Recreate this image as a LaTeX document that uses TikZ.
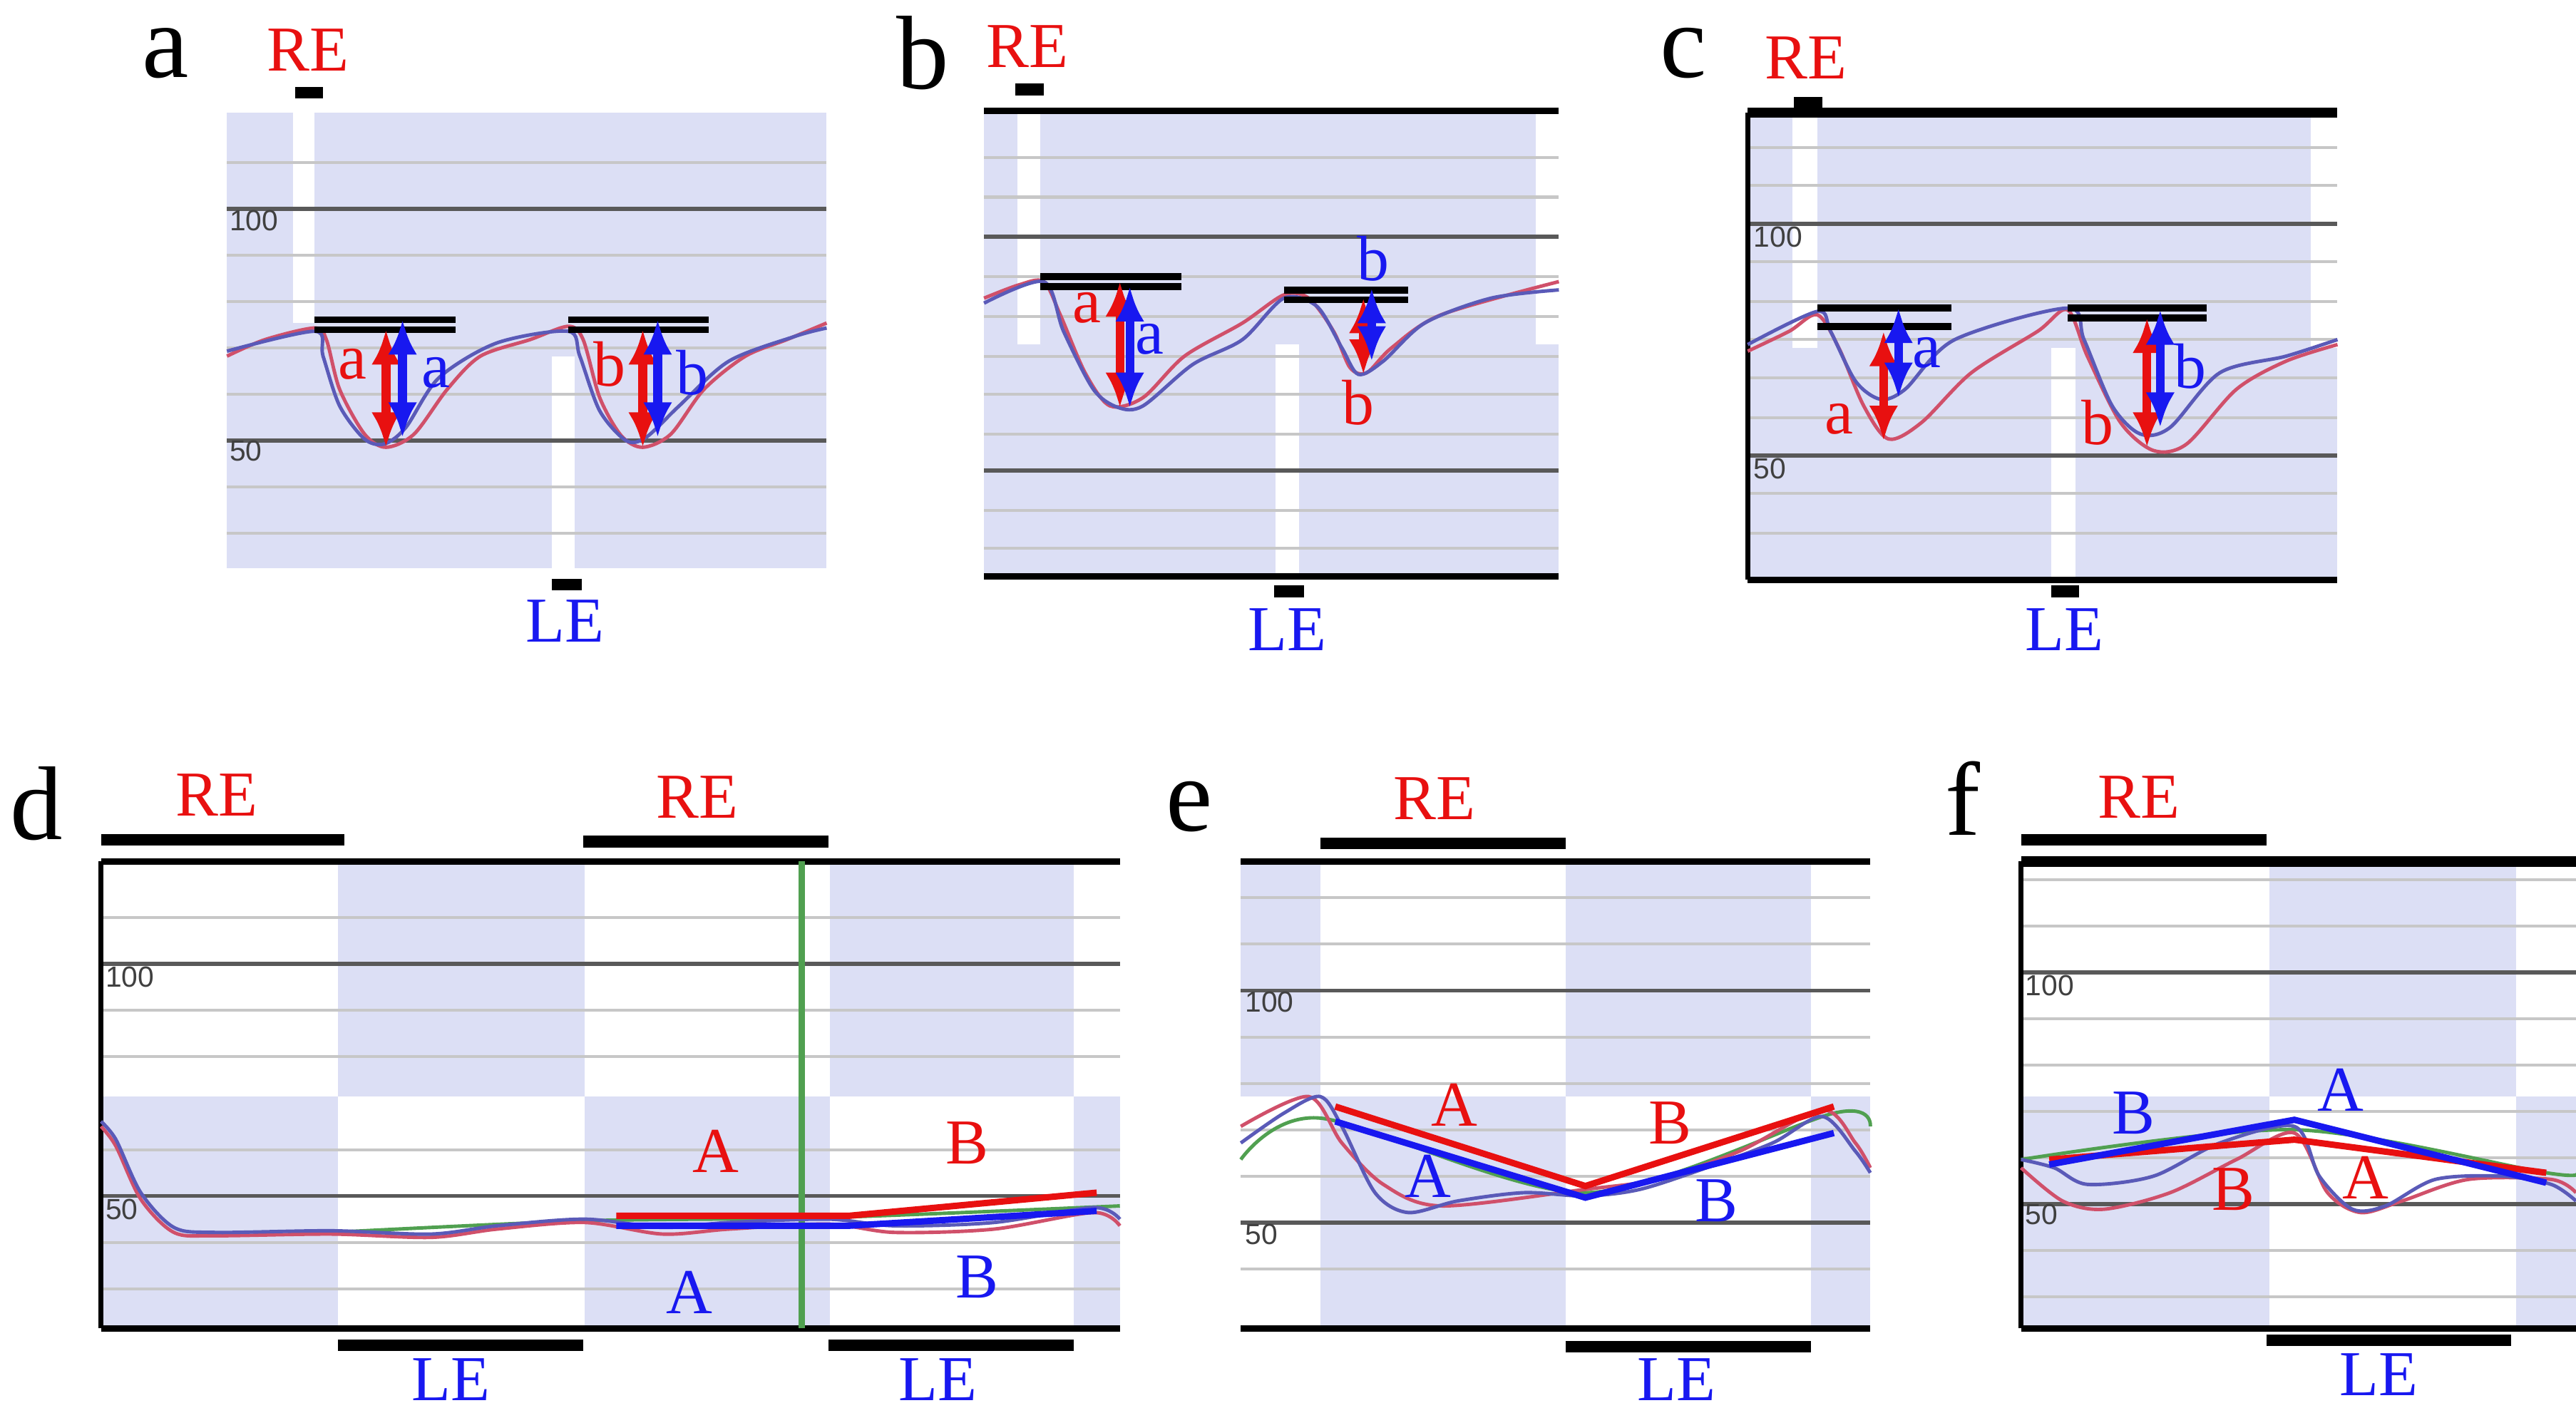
\documentclass[tikz,border=0pt]{standalone}
\usepackage{fontspec}
\setmainfont{Liberation Serif}
\newfontfamily\gridf{Liberation Sans}
\usetikzlibrary{arrows.meta}
\definecolor{lav}{HTML}{DCDFF5}
\definecolor{tred}{HTML}{D0506A}
\definecolor{tblue}{HTML}{5A5AB8}
\definecolor{tgreen}{HTML}{50A050}
\definecolor{lred}{HTML}{E81010}
\definecolor{lblue}{HTML}{1818F0}
\tikzset{
 lg/.style={draw=black!22,line width=0.5pt},
 dg/.style={draw=black!65,line width=0.7pt},
 tr/.style={tred,line width=0.6pt},
 tb/.style={tblue,line width=0.6pt},
 tg/.style={tgreen,line width=0.6pt},
 bar/.style={line width=2pt},
 bl/.style={line width=1.2pt},
 ra/.style={lred,line width=1.5pt,<->,>={Latex[length=6pt,width=5pt]}},
 ba/.style={lblue,line width=1.5pt,<->,>={Latex[length=6pt,width=5pt]}},
 rt/.style={text=lred,font=\fontsize{11}{11}\selectfont},
 bt/.style={text=lblue,font=\fontsize{11}{11}\selectfont},
 bigR/.style={text=lred,font=\fontsize{11}{11}\selectfont},
 bigB/.style={text=lblue,font=\fontsize{11}{11}\selectfont},
 pl/.style={font=\fontsize{18}{18}\selectfont},
 gl/.style={font=\gridf\fontsize{5}{5}\selectfont,text=black!75,inner sep=0pt,anchor=west},
 rl/.style={lred,line width=1.1pt},
 bll/.style={lblue,line width=1.1pt},
}
\begin{document}
\begin{tikzpicture}[x=0.1mm,y=-0.1mm]
\useasboundingbox (0,0) rectangle (1555,850);
% ---------- panel a
\fill[lav] (137,68) rectangle (499,343);
\fill[white] (177,68) rectangle (190,195);
\fill[white] (333,215) rectangle (347,343);
\foreach \y in {98,154,182,210,238,294,322} \draw[lg] (137,\y)--(499,\y);
\draw[dg] (137,126)--(499,126); \draw[dg] (137,266)--(499,266);
\node[gl] (a100) at (138,133) {100}; \node[gl] (a50) at (138,272) {50};
\draw[tr] plot[smooth,tension=0.5] coordinates {(137,215)(160,205)(190,198)(197,205)(205,235)(220,262)(233,270)(250,262)(270,235)(290,215)(320,205)(343,197)(352,205)(362,240)(375,263)(388,270)(405,262)(425,235)(450,215)(475,205)(499,195)};
\draw[tb] plot[smooth,tension=0.5] coordinates {(137,212)(190,200)(195,215)(205,245)(220,265)(232,268)(245,258)(265,228)(300,207)(343,200)(350,215)(362,248)(378,266)(390,264)(410,245)(440,218)(480,203)(499,198)};
\draw[bl] (190,193)--(275,193); \draw[bl] (190,199)--(275,199);
\draw[bl] (343,193)--(428,193); \draw[bl] (343,199)--(428,199);
\draw[ra] (233,199)--(233,270); \draw[ba] (243,193)--(243,264);
\draw[ra] (388,199)--(388,270); \draw[ba] (397,193)--(397,264);
\node[rt] (ara) at (213,220) {a}; \node[bt] (aba) at (263,225) {a};
\node[rt] (arb) at (368,220) {b}; \node[bt] (abb) at (418,225) {b};
\node[bigR] (aRE) at (186,30) {RE}; \draw[bar] (178,56)--(195,56);
\node[bigB] (aLE) at (341,375) {LE}; \draw[bar] (333,353)--(351,353);
\node[pl] (pa) at (100,32) {a};
% ---------- panel b
\fill[lav] (594,67) rectangle (941,348);
\fill[white] (614,67) rectangle (628,208);
\fill[white] (770,208) rectangle (784,348);
\fill[white] (927,67) rectangle (941,208);
\foreach \y in {95,119,167,191,215,238,262,308,331} \draw[lg] (594,\y)--(941,\y);
\draw[dg] (594,143)--(941,143); \draw[dg] (594,284)--(941,284);
\draw[line width=1.1pt] (594,67)--(941,67); \draw[line width=1.1pt] (594,348)--(941,348);
\draw[tr] plot[smooth,tension=0.5] coordinates {(594,180)(615,172)(630,170)(640,190)(655,225)(670,245)(690,240)(715,215)(750,195)(775,178)(790,180)(805,200)(815,222)(825,225)(840,210)(870,190)(941,170)};
\draw[tb] plot[smooth,tension=0.5] coordinates {(594,183)(630,170)(642,200)(660,235)(675,246)(690,245)(720,220)(750,205)(775,180)(795,185)(810,210)(820,226)(835,218)(860,195)(900,180)(941,175)};
\draw[bl] (628,167)--(713,167); \draw[bl] (628,173)--(713,173);
\draw[bl] (775,175)--(850,175); \draw[bl] (775,181)--(850,181);
\draw[ra] (676,170)--(676,246); \draw[ba] (682,173)--(682,246);
\draw[ra] (823,180)--(823,226); \draw[ba] (828,174)--(828,218);
\node[rt] (bra) at (656,186) {a}; \node[bt] (bba) at (694,205) {a};
\node[bt] (bbb) at (829,156) {b}; \node[rt] (brb) at (820,243) {b};
\node[bigR] (bRE) at (620,28) {RE}; \draw[bar] (613,54)--(630,54);
\node[bigB] (bLE) at (777,380) {LE}; \draw[bar] (769,357)--(787,357);
\node[pl] (pb) at (557,32) {b};
% ---------- panel c
\fill[lav] (1055,68) rectangle (1411,350);
\fill[white] (1082,68) rectangle (1097,210);
\fill[white] (1238,210) rectangle (1253,350);
\fill[white] (1395,68) rectangle (1411,210);
\foreach \y in {89,112,158,182,205,228,252,298,322} \draw[lg] (1055,\y)--(1411,\y);
\draw[dg] (1055,135)--(1411,135); \draw[dg] (1055,275)--(1411,275);
\draw[line width=1.8pt] (1055,68)--(1411,68); \draw[line width=1.1pt] (1055,350)--(1411,350);
\draw[line width=0.8pt] (1055,68)--(1055,350);
\node[gl] (c100) at (1058,143) {100}; \node[gl] (c50) at (1058,283) {50};
\draw[tr] plot[smooth,tension=0.5] coordinates {(1055,212)(1080,200)(1097,190)(1110,210)(1125,245)(1140,265)(1160,255)(1190,225)(1230,200)(1248,187)(1260,215)(1280,255)(1300,272)(1320,268)(1350,235)(1380,218)(1411,208)};
\draw[tb] plot[smooth,tension=0.5] coordinates {(1055,208)(1097,188)(1105,200)(1120,230)(1135,241)(1150,235)(1180,205)(1248,186)(1258,205)(1275,245)(1292,262)(1310,258)(1340,225)(1380,215)(1411,205)};
\draw[bl] (1097,186)--(1178,186); \draw[bl] (1097,197)--(1178,197);
\draw[bl] (1248,186)--(1332,186); \draw[bl] (1248,192)--(1332,192);
\draw[ra] (1137,200)--(1137,266); \draw[ba] (1146,186)--(1146,240);
\draw[ra] (1296,192)--(1296,270); \draw[ba] (1304,187)--(1304,258);
\node[bt] (cba) at (1163,213) {a}; \node[rt] (cra) at (1110,253) {a};
\node[bt] (cbb) at (1322,221) {b}; \node[rt] (crb) at (1266,255) {b};
\node[bigR] (cRE) at (1090,35) {RE}; \draw[bar] (1083,62)--(1100,62);
\node[bigB] (cLE) at (1246,380) {LE}; \draw[bar] (1238,357)--(1255,357);
\node[pl] (pc) at (1016,32) {c};
% ---------- panel d
\fill[lav] (204,520) rectangle (353,662); \fill[lav] (501,520) rectangle (648,662);
\fill[lav] (61,662) rectangle (204,802); \fill[lav] (353,662) rectangle (501,802); \fill[lav] (648,662) rectangle (676,802);
\foreach \y in {554,610,638,694,750,778} \draw[lg] (61,\y)--(676,\y);
\draw[dg] (61,582)--(676,582); \draw[dg] (61,722)--(676,722);
\draw[line width=1.1pt] (61,520)--(676,520); \draw[line width=1.1pt] (61,802)--(676,802);
\draw[line width=0.8pt] (61,520)--(61,802);
\node[gl] (d100) at (63,590) {100}; \node[gl] (d50) at (63,730) {50};
\draw[tgreen,line width=1pt] (484,520)--(484,802);
\draw[tg] plot[smooth,tension=0.5] coordinates {(200,744)(353,737)(500,735)(676,728)};
\draw[tr] plot[smooth,tension=0.5] coordinates {(61,680)(70,692)(85,724)(105,744)(130,746)(200,745)(260,747)(300,742)(353,738)(400,745)(440,742)(500,739)(540,744)(600,742)(660,732)(676,740)};
\draw[tb] plot[smooth,tension=0.5] coordinates {(61,677)(70,688)(85,720)(105,741)(130,744)(200,743)(260,745)(300,740)(353,736)(400,741)(440,738)(500,736)(540,740)(600,738)(660,729)(676,736)};
\draw[rl] (372,734)--(512,734)--(662,720);
\draw[bll] (372,740)--(512,740)--(662,731);
\node[bigR] (dRA) at (432,695) {A}; \node[bigR] (dRB) at (584,690) {B};
\node[bigB] (dBA) at (416,780) {A}; \node[bigB] (dBB) at (590,771) {B};
\draw[bar] (61,507)--(208,507); \draw[bar] (352,508)--(500,508);
\node[bigR] (dRE1) at (131,480) {RE}; \node[bigR] (dRE2) at (421,481) {RE};
\draw[bar] (204,812)--(352,812); \draw[bar] (500,812)--(648,812);
\node[bigB] (dLE1) at (272,833) {LE}; \node[bigB] (dLE2) at (566,833) {LE};
\node[pl] (pd) at (22,485) {d};
% ---------- panel e
\fill[lav] (749,520) rectangle (797,662); \fill[lav] (945,520) rectangle (1093,662);
\fill[lav] (797,662) rectangle (945,802); \fill[lav] (1093,662) rectangle (1129,802);
\foreach \y in {542,570,626,654,682,710,766} \draw[lg] (749,\y)--(1129,\y);
\draw[dg] (749,598)--(1129,598); \draw[dg] (749,738)--(1129,738);
\draw[line width=1.1pt] (749,520)--(1129,520); \draw[line width=1.1pt] (749,802)--(1129,802);
\node[gl] (e100) at (751,605) {100}; \node[gl] (e50) at (751,745) {50};
\draw[tg] plot[smooth,tension=0.5] coordinates {(749,700)(797,675)(957,720)(1107,672)(1129,680)};
\draw[tr] plot[smooth,tension=0.5] coordinates {(749,680)(790,662)(810,690)(835,715)(870,728)(957,718)(1000,712)(1050,695)(1100,670)(1120,690)(1129,705)};
\draw[tb] plot[smooth,tension=0.5] coordinates {(749,690)(775,672)(797,662)(810,680)(830,720)(850,732)(880,725)(920,720)(957,722)(990,718)(1030,705)(1070,690)(1100,674)(1120,695)(1129,708)};
\draw[rl] (806,668)--(957,716)--(1107,668);
\draw[bll] (806,677)--(957,723)--(1107,684);
\node[bigR] (eRA) at (878,667) {A}; \node[bigR] (eRB) at (1008,678) {B};
\node[bigB] (eBA) at (862,710) {A}; \node[bigB] (eBB) at (1036,725) {B};
\draw[bar] (797,509)--(945,509); \node[bigR] (eRE) at (866,482) {RE};
\draw[bar] (945,813)--(1093,813); \node[bigB] (eLE) at (1012,833) {LE};
\node[pl] (pe) at (718,487) {e};
% ---------- panel f
\fill[lav] (1370,520) rectangle (1519,662);
\fill[lav] (1220,662) rectangle (1370,802); \fill[lav] (1519,662) rectangle (1555,802);
\foreach \y in {531,559,615,643,671,699,755,783} \draw[lg] (1220,\y)--(1555,\y);
\draw[dg] (1220,587)--(1555,587); \draw[dg] (1220,727)--(1555,727);
\draw[line width=1.8pt] (1220,520)--(1555,520); \draw[line width=1.1pt] (1220,802)--(1555,802);
\draw[line width=0.8pt] (1220,520)--(1220,802);
\node[gl] (f100) at (1222,595) {100}; \node[gl] (f50) at (1222,733) {50};
\draw[tg] plot[smooth,tension=0.5] coordinates {(1220,700)(1385,682)(1537,708)(1555,708)};
\draw[tr] plot[smooth,tension=0.5] coordinates {(1220,705)(1245,725)(1270,730)(1310,720)(1350,700)(1385,684)(1405,720)(1425,732)(1450,725)(1490,712)(1540,712)(1555,720)};
\draw[tb] plot[smooth,tension=0.5] coordinates {(1220,700)(1240,705)(1260,715)(1300,710)(1340,690)(1385,680)(1400,710)(1420,730)(1440,728)(1470,712)(1510,710)(1540,715)(1555,725)};
\draw[rl] (1237,700)--(1385,688)--(1537,708);
\draw[bll] (1237,703)--(1385,676)--(1537,714);
\node[bigB] (fBB) at (1288,672) {B}; \node[bigB] (fBA) at (1413,658) {A};
\node[bigR] (fRB) at (1348,718) {B}; \node[bigR] (fRA) at (1428,711) {A};
\draw[bar] (1220,507)--(1368,507); \node[bigR] (fRE) at (1291,481) {RE};
\draw[bar] (1368,809)--(1516,809); \node[bigB] (fLE) at (1436,830) {LE};
\node[pl] (pf) at (1185,482) {f};
\end{tikzpicture}
\end{document}
